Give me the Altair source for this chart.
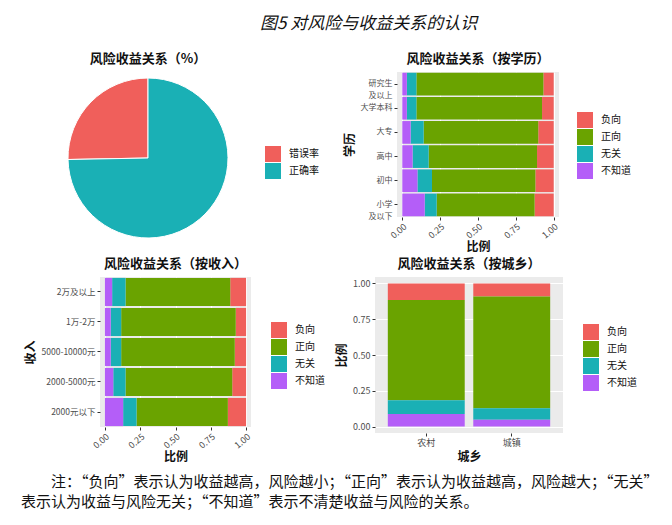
import altair as alt
import pandas as pd

FONT = "Noto Sans CJK SC"
RED, GREEN, TEAL, PURPLE = "#F05F5B", "#6AA300", "#1AB0B5", "#B45EF8"

# ---------------- data ----------------
resp = ["负向", "正向", "无关", "不知道"]
resp_colors = [RED, GREEN, TEAL, PURPLE]
stack_rank = {"不知道": 0, "无关": 1, "正向": 2, "负向": 3}

pie_cats = ["错误率", "正确率"]
pie_vals = [25.3, 74.7]
pie_rank = [1, 0]

edu_cats = ["研究生\n及以上", "大学本科", "大专", "高中", "初中", "小学\n及以下"]
edu_neg = [0.068, 0.077, 0.102, 0.110, 0.121, 0.126]
edu_pos = [0.839, 0.830, 0.757, 0.716, 0.683, 0.647]
edu_none = [0.063, 0.063, 0.086, 0.106, 0.096, 0.079]
edu_dk = [0.030, 0.030, 0.055, 0.068, 0.100, 0.148]

inc_cats = ["2万及以上", "1万-2万", "5000-10000元", "2000-5000元", "2000元以下"]
inc_neg = [0.112, 0.073, 0.080, 0.098, 0.129]
inc_pos = [0.742, 0.812, 0.805, 0.756, 0.647]
inc_none = [0.095, 0.074, 0.074, 0.087, 0.095]
inc_dk = [0.051, 0.041, 0.041, 0.059, 0.129]

urb_cats = ["农村", "城镇"]
urb_neg = [0.116, 0.091]
urb_pos = [0.700, 0.781]
urb_none = [0.096, 0.081]
urb_dk = [0.088, 0.047]

ticks = [0, 0.25, 0.5, 0.75, 1.0]

# zero-width char keeps the two ideographic-space indent from being trimmed
INDENT = "\u200b\u3000\u3000"
note_lines = [
    INDENT + "注：“负向”表示认为收益越高，风险越小；“正向”表示认为收益越高，风险越大；“无关”",
    "表示认为收益与风险无关；“不知道”表示不清楚收益与风险的关系。",
]


def long_df(cats, neg, pos, none, dk):
    rows = []
    for i, c in enumerate(cats):
        for r, vals in zip(resp, [neg, pos, none, dk]):
            rows.append({"cat": c, "resp": r, "v": vals[i], "rank": stack_rank[r]})
    return pd.DataFrame(rows)


edu_df = long_df(edu_cats, edu_neg, edu_pos, edu_none, edu_dk)
inc_df = long_df(inc_cats, inc_neg, inc_pos, inc_none, inc_dk)
urb_df = long_df(urb_cats, urb_neg, urb_pos, urb_none, urb_dk)
pie_df = pd.DataFrame({"cat": pie_cats, "v": pie_vals, "rank": pie_rank})

panel_bg = alt.ViewBackground(fill="#EBEBEB", strokeWidth=0)


def resp_color(lx, ly):
    return alt.Color(
        "resp:N",
        scale=alt.Scale(domain=resp, range=resp_colors),
        legend=alt.Legend(title=None, orient="none", legendX=lx, legendY=ly),
    )


def hbar(df, cats, ytitle, title, w, h, lx, ly, lfs, llh):
    return (
        alt.Chart(df)
        .mark_bar()
        .encode(
            x=alt.X(
                "v:Q",
                stack="zero",
                scale=alt.Scale(domain=[-0.035, 1.035], nice=False, zero=False),
                axis=alt.Axis(values=ticks, format=".2f", labelAngle=320,
                              labelAlign="right", labelBaseline="top", title="比例",
                              titlePadding=1),
            ),
            y=alt.Y(
                "cat:N",
                sort=cats,
                title=ytitle,
                scale=alt.Scale(paddingInner=0.06, paddingOuter=0.03),
                axis=alt.Axis(labelExpr="split(datum.label, '\\n')", grid=False,
                              labelFontSize=lfs, labelLineHeight=llh),
            ),
            color=resp_color(lx, ly),
            order=alt.Order("rank:Q"),
        )
        .properties(width=w, height=h, title=alt.TitleParams(title, frame="group"), view=panel_bg)
    )


pie = (
    alt.Chart(pie_df)
    .mark_arc(radius=80, stroke="white", strokeWidth=1)
    .encode(
        theta=alt.Theta("v:Q", stack=True),
        color=alt.Color(
            "cat:N",
            scale=alt.Scale(domain=pie_cats, range=[RED, TEAL]),
            legend=alt.Legend(title=None, orient="none", legendX=165, legendY=74),
        ),
        order=alt.Order("rank:Q"),
    )
    .properties(width=96, height=172, title=alt.TitleParams("风险收益关系（%）", frame="group"))
)

edu = hbar(edu_df, edu_cats, "学历", "风险收益关系（按学历）", 162, 145, 180, 40, 8, 11.7)
inc = hbar(inc_df, inc_cats, "收入", "风险收益关系（按收入）", 151, 150, 171, 45, 8.5, 10)

urb = (
    alt.Chart(urb_df)
    .mark_bar()
    .encode(
        x=alt.X("cat:N", sort=urb_cats, title="城乡",
                scale=alt.Scale(paddingInner=0.1, paddingOuter=0.15),
                axis=alt.Axis(labelAngle=0, grid=False)),
        y=alt.Y("v:Q", stack="zero",
                scale=alt.Scale(domain=[-0.045, 1.045], nice=False, zero=False),
                axis=alt.Axis(values=ticks, format=".2f", title="比例")),
        color=resp_color(208, 47),
        order=alt.Order("rank:Q"),
    )
    .properties(width=188, height=156, title=alt.TitleParams("风险收益关系（按城乡）", frame="group"), view=panel_bg)
)

row1 = alt.hconcat(pie, edu, spacing=24).resolve_scale(color="independent").resolve_legend(color="independent")
row2 = (
    alt.hconcat(inc, urb, spacing=10)
    .resolve_scale(color="independent")
    .resolve_legend(color="independent")
    .properties(
        title=alt.TitleParams(note_lines, orient="bottom", anchor="start", frame="bounds",
                              fontSize=15, fontWeight="normal", lineHeight=20, offset=13, dx=-3,
                              color="#111111")
    )
)

chart = (
    alt.vconcat(row1, row2, spacing=5)
    .resolve_scale(color="independent")
    .resolve_legend(color="independent")
    .properties(
        title=alt.TitleParams("图5 对风险与收益关系的认识", fontSize=17, fontStyle="italic",
                              fontWeight="normal", anchor="middle", font=FONT, offset=20, dx=25),
        padding={"left": 21, "top": 15, "right": 5, "bottom": 5},
    )
    .configure_view(stroke="transparent")
    .configure_axis(
        labelFont=FONT, titleFont=FONT, labelColor="#4D4D4D", labelFontSize=9,
        titleFontSize=12, titleFontWeight="bold", titleColor="#111111",
        gridColor="white", gridWidth=1, domain=False, tickColor="#333333",
        tickSize=3, labelPadding=2, titlePadding=4,
    )
    .configure_legend(
        labelFont=FONT, labelFontSize=10, labelColor="#111111", symbolType="square",
        symbolSize=256, symbolStrokeWidth=0, rowPadding=1, labelOffset=8,
    )
    .configure_title(font=FONT, fontSize=13, fontWeight="bold", color="#111111", offset=6)
)

chart.save("out.html", embed_options={"renderer": "svg", "actions": False})
